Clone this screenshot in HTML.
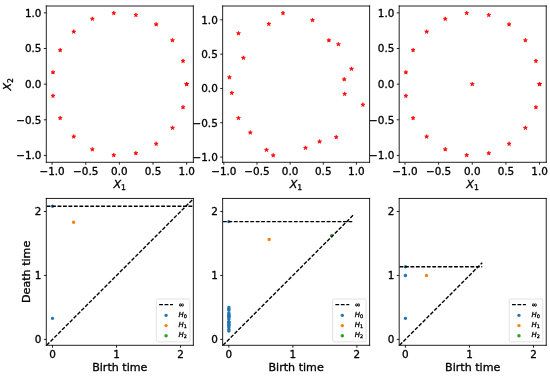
<!DOCTYPE html>
<html><head><meta charset="utf-8"><title>Figure</title>
<style>html,body{margin:0;padding:0;background:#fff;width:550px;height:378px;overflow:hidden}
text{font-family:"DejaVu Sans","Liberation Sans",sans-serif;stroke:#000;stroke-width:0.45px;paint-order:stroke}</style></head>
<body>
<svg width="550" height="378" viewBox="0 0 792 544.32" style="display:block">
<defs>
<style type="text/css">*{stroke-linejoin: round; stroke-linecap: butt}</style>
</defs>
<g id="figure_1">
<g id="patch_1">
<path d="M 0 544.32 L 792 544.32 L 792 0 L 0 0 z" style="fill: #ffffff"/>
</g>
<g id="axes_1">
<g id="patch_2">
<path d="M 66.672 233.712 L 278.424 233.712 L 278.424 8.64 L 66.672 8.64 z" style="fill: #ffffff"/>
</g>
<g id="matplotlib.axis_1">
<g id="xtick_1">
<g id="line2d_1">
<g>
<path d="M 0 0 L 0 3.5" transform="translate(74.97534 233.712)" style="stroke: #000000; stroke-width: 1.25"/>
</g>
</g>
<g id="text_1">
<text style="font-size: 15px; font-family: 'DejaVu Sans'; text-anchor: middle" x="74.97534" y="252.109656" transform="rotate(-0 74.97534 252.109656)">−1.0</text>
</g>
</g>
<g id="xtick_2">
<g id="line2d_2">
<g>
<path d="M 0 0 L 0 3.5" transform="translate(123.431233 233.712)" style="stroke: #000000; stroke-width: 1.25"/>
</g>
</g>
<g id="text_2">
<text style="font-size: 15px; font-family: 'DejaVu Sans'; text-anchor: middle" x="123.431233" y="252.109656" transform="rotate(-0 123.431233 252.109656)">−0.5</text>
</g>
</g>
<g id="xtick_3">
<g id="line2d_3">
<g>
<path d="M 0 0 L 0 3.5" transform="translate(171.887125 233.712)" style="stroke: #000000; stroke-width: 1.25"/>
</g>
</g>
<g id="text_3">
<text style="font-size: 15px; font-family: 'DejaVu Sans'; text-anchor: middle" x="171.887125" y="252.109656" transform="rotate(-0 171.887125 252.109656)">0.0</text>
</g>
</g>
<g id="xtick_4">
<g id="line2d_4">
<g>
<path d="M 0 0 L 0 3.5" transform="translate(220.343017 233.712)" style="stroke: #000000; stroke-width: 1.25"/>
</g>
</g>
<g id="text_4">
<text style="font-size: 15px; font-family: 'DejaVu Sans'; text-anchor: middle" x="220.343017" y="252.109656" transform="rotate(-0 220.343017 252.109656)">0.5</text>
</g>
</g>
<g id="xtick_5">
<g id="line2d_5">
<g>
<path d="M 0 0 L 0 3.5" transform="translate(268.798909 233.712)" style="stroke: #000000; stroke-width: 1.25"/>
</g>
</g>
<g id="text_5">
<text style="font-size: 15px; font-family: 'DejaVu Sans'; text-anchor: middle" x="268.798909" y="252.109656" transform="rotate(-0 268.798909 252.109656)">1.0</text>
</g>
</g>
<g id="text_6">
<g transform="translate(163.268 271.386687)">
<text>
<tspan x="0" y="-0.328125" style="font-style: oblique; font-size: 16px; font-family: 'DejaVu Sans'">X</tspan>
<tspan x="10.960938" y="2.296875" style="font-size: 11.2px; font-family: 'DejaVu Sans'">1</tspan>
</text>
</g>
</g>
</g>
<g id="matplotlib.axis_2">
<g id="ytick_1">
<g id="line2d_6">
<g>
<path d="M 0 0 L -3.5 0" transform="translate(66.672 223.832077)" style="stroke: #000000; stroke-width: 1.25"/>
</g>
</g>
<g id="text_7">
<text style="font-size: 15px; font-family: 'DejaVu Sans'; text-anchor: end" x="59.672" y="229.530905" transform="rotate(-0 59.672 229.530905)">−1.0</text>
</g>
</g>
<g id="ytick_2">
<g id="line2d_7">
<g>
<path d="M 0 0 L -3.5 0" transform="translate(66.672 172.504039)" style="stroke: #000000; stroke-width: 1.25"/>
</g>
</g>
<g id="text_8">
<text style="font-size: 15px; font-family: 'DejaVu Sans'; text-anchor: end" x="59.672" y="178.202867" transform="rotate(-0 59.672 178.202867)">−0.5</text>
</g>
</g>
<g id="ytick_3">
<g id="line2d_8">
<g>
<path d="M 0 0 L -3.5 0" transform="translate(66.672 121.176)" style="stroke: #000000; stroke-width: 1.25"/>
</g>
</g>
<g id="text_9">
<text style="font-size: 15px; font-family: 'DejaVu Sans'; text-anchor: end" x="59.672" y="126.874828" transform="rotate(-0 59.672 126.874828)">0.0</text>
</g>
</g>
<g id="ytick_4">
<g id="line2d_9">
<g>
<path d="M 0 0 L -3.5 0" transform="translate(66.672 69.847961)" style="stroke: #000000; stroke-width: 1.25"/>
</g>
</g>
<g id="text_10">
<text style="font-size: 15px; font-family: 'DejaVu Sans'; text-anchor: end" x="59.672" y="75.54679" transform="rotate(-0 59.672 75.54679)">0.5</text>
</g>
</g>
<g id="ytick_5">
<g id="line2d_10">
<g>
<path d="M 0 0 L -3.5 0" transform="translate(66.672 18.519923)" style="stroke: #000000; stroke-width: 1.25"/>
</g>
</g>
<g id="text_11">
<text style="font-size: 15px; font-family: 'DejaVu Sans'; text-anchor: end" x="59.672" y="24.218751" transform="rotate(-0 59.672 24.218751)">1.0</text>
</g>
</g>
<g id="text_12">
<g transform="translate(15.920281 130.456) rotate(-90)">
<text>
<tspan x="0" y="-0.328125" style="font-style: oblique; font-size: 16px; font-family: 'DejaVu Sans'">X</tspan>
<tspan x="10.960938" y="2.296875" style="font-size: 11.2px; font-family: 'DejaVu Sans'">2</tspan>
</text>
</g>
</g>
</g>
<g id="line2d_11">
<g clip-path="url(#p3191b3735a)">
<path d="M 0 -3 L -0.673542 -0.927051 L -2.85317 -0.927051 L -1.089814 0.354102 L -1.763356 2.427051 L -0 1.145898 L 1.763356 2.427051 L 1.089814 0.354102 L 2.85317 -0.927051 L 0.673542 -0.927051 z" transform="translate(268.798909 121.176)" style="fill: #ff0000; stroke: #ff0000; stroke-linejoin: bevel"/>
<path d="M 0 -3 L -0.673542 -0.927051 L -2.85317 -0.927051 L -1.089814 0.354102 L -1.763356 2.427051 L -0 1.145898 L 1.763356 2.427051 L 1.089814 0.354102 L 2.85317 -0.927051 L 0.673542 -0.927051 z" transform="translate(263.547961 87.843626)" style="fill: #ff0000; stroke: #ff0000; stroke-linejoin: bevel"/>
<path d="M 0 -3 L -0.673542 -0.927051 L -2.85317 -0.927051 L -1.089814 0.354102 L -1.763356 2.427051 L -0 1.145898 L 1.763356 2.427051 L 1.089814 0.354102 L 2.85317 -0.927051 L 0.673542 -0.927051 z" transform="translate(248.36414 58.123332)" style="fill: #ff0000; stroke: #ff0000; stroke-linejoin: bevel"/>
<path d="M 0 -3 L -0.673542 -0.927051 L -2.85317 -0.927051 L -1.089814 0.354102 L -1.763356 2.427051 L -0 1.145898 L 1.763356 2.427051 L 1.089814 0.354102 L 2.85317 -0.927051 L 0.673542 -0.927051 z" transform="translate(224.892847 35.235773)" style="fill: #ff0000; stroke: #ff0000; stroke-linejoin: bevel"/>
<path d="M 0 -3 L -0.673542 -0.927051 L -2.85317 -0.927051 L -1.089814 0.354102 L -1.763356 2.427051 L -0 1.145898 L 1.763356 2.427051 L 1.089814 0.354102 L 2.85317 -0.927051 L 0.673542 -0.927051 z" transform="translate(195.677561 21.661172)" style="fill: #ff0000; stroke: #ff0000; stroke-linejoin: bevel"/>
<path d="M 0 -3 L -0.673542 -0.927051 L -2.85317 -0.927051 L -1.089814 0.354102 L -1.763356 2.427051 L -0 1.145898 L 1.763356 2.427051 L 1.089814 0.354102 L 2.85317 -0.927051 L 0.673542 -0.927051 z" transform="translate(163.884213 18.870545)" style="fill: #ff0000; stroke: #ff0000; stroke-linejoin: bevel"/>
<path d="M 0 -3 L -0.673542 -0.927051 L -2.85317 -0.927051 L -1.089814 0.354102 L -1.763356 2.427051 L -0 1.145898 L 1.763356 2.427051 L 1.089814 0.354102 L 2.85317 -0.927051 L 0.673542 -0.927051 z" transform="translate(132.958104 27.166303)" style="fill: #ff0000; stroke: #ff0000; stroke-linejoin: bevel"/>
<path d="M 0 -3 L -0.673542 -0.927051 L -2.85317 -0.927051 L -1.089814 0.354102 L -1.763356 2.427051 L -0 1.145898 L 1.763356 2.427051 L 1.089814 0.354102 L 2.85317 -0.927051 L 0.673542 -0.927051 z" transform="translate(106.250559 45.64947)" style="fill: #ff0000; stroke: #ff0000; stroke-linejoin: bevel"/>
<path d="M 0 -3 L -0.673542 -0.927051 L -2.85317 -0.927051 L -1.089814 0.354102 L -1.763356 2.427051 L -0 1.145898 L 1.763356 2.427051 L 1.089814 0.354102 L 2.85317 -0.927051 L 0.673542 -0.927051 z" transform="translate(86.655754 72.317108)" style="fill: #ff0000; stroke: #ff0000; stroke-linejoin: bevel"/>
<path d="M 0 -3 L -0.673542 -0.927051 L -2.85317 -0.927051 L -1.089814 0.354102 L -1.763356 2.427051 L -0 1.145898 L 1.763356 2.427051 L 1.089814 0.354102 L 2.85317 -0.927051 L 0.673542 -0.927051 z" transform="translate(76.297091 104.279365)" style="fill: #ff0000; stroke: #ff0000; stroke-linejoin: bevel"/>
<path d="M 0 -3 L -0.673542 -0.927051 L -2.85317 -0.927051 L -1.089814 0.354102 L -1.763356 2.427051 L -0 1.145898 L 1.763356 2.427051 L 1.089814 0.354102 L 2.85317 -0.927051 L 0.673542 -0.927051 z" transform="translate(76.297091 138.072635)" style="fill: #ff0000; stroke: #ff0000; stroke-linejoin: bevel"/>
<path d="M 0 -3 L -0.673542 -0.927051 L -2.85317 -0.927051 L -1.089814 0.354102 L -1.763356 2.427051 L -0 1.145898 L 1.763356 2.427051 L 1.089814 0.354102 L 2.85317 -0.927051 L 0.673542 -0.927051 z" transform="translate(86.655754 170.034892)" style="fill: #ff0000; stroke: #ff0000; stroke-linejoin: bevel"/>
<path d="M 0 -3 L -0.673542 -0.927051 L -2.85317 -0.927051 L -1.089814 0.354102 L -1.763356 2.427051 L -0 1.145898 L 1.763356 2.427051 L 1.089814 0.354102 L 2.85317 -0.927051 L 0.673542 -0.927051 z" transform="translate(106.250559 196.70253)" style="fill: #ff0000; stroke: #ff0000; stroke-linejoin: bevel"/>
<path d="M 0 -3 L -0.673542 -0.927051 L -2.85317 -0.927051 L -1.089814 0.354102 L -1.763356 2.427051 L -0 1.145898 L 1.763356 2.427051 L 1.089814 0.354102 L 2.85317 -0.927051 L 0.673542 -0.927051 z" transform="translate(132.958104 215.185697)" style="fill: #ff0000; stroke: #ff0000; stroke-linejoin: bevel"/>
<path d="M 0 -3 L -0.673542 -0.927051 L -2.85317 -0.927051 L -1.089814 0.354102 L -1.763356 2.427051 L -0 1.145898 L 1.763356 2.427051 L 1.089814 0.354102 L 2.85317 -0.927051 L 0.673542 -0.927051 z" transform="translate(163.884213 223.481455)" style="fill: #ff0000; stroke: #ff0000; stroke-linejoin: bevel"/>
<path d="M 0 -3 L -0.673542 -0.927051 L -2.85317 -0.927051 L -1.089814 0.354102 L -1.763356 2.427051 L -0 1.145898 L 1.763356 2.427051 L 1.089814 0.354102 L 2.85317 -0.927051 L 0.673542 -0.927051 z" transform="translate(195.677561 220.690828)" style="fill: #ff0000; stroke: #ff0000; stroke-linejoin: bevel"/>
<path d="M 0 -3 L -0.673542 -0.927051 L -2.85317 -0.927051 L -1.089814 0.354102 L -1.763356 2.427051 L -0 1.145898 L 1.763356 2.427051 L 1.089814 0.354102 L 2.85317 -0.927051 L 0.673542 -0.927051 z" transform="translate(224.892847 207.116227)" style="fill: #ff0000; stroke: #ff0000; stroke-linejoin: bevel"/>
<path d="M 0 -3 L -0.673542 -0.927051 L -2.85317 -0.927051 L -1.089814 0.354102 L -1.763356 2.427051 L -0 1.145898 L 1.763356 2.427051 L 1.089814 0.354102 L 2.85317 -0.927051 L 0.673542 -0.927051 z" transform="translate(248.36414 184.228668)" style="fill: #ff0000; stroke: #ff0000; stroke-linejoin: bevel"/>
<path d="M 0 -3 L -0.673542 -0.927051 L -2.85317 -0.927051 L -1.089814 0.354102 L -1.763356 2.427051 L -0 1.145898 L 1.763356 2.427051 L 1.089814 0.354102 L 2.85317 -0.927051 L 0.673542 -0.927051 z" transform="translate(263.547961 154.508374)" style="fill: #ff0000; stroke: #ff0000; stroke-linejoin: bevel"/>
<path d="M 0 -3 L -0.673542 -0.927051 L -2.85317 -0.927051 L -1.089814 0.354102 L -1.763356 2.427051 L -0 1.145898 L 1.763356 2.427051 L 1.089814 0.354102 L 2.85317 -0.927051 L 0.673542 -0.927051 z" transform="translate(268.798909 121.176)" style="fill: #ff0000; stroke: #ff0000; stroke-linejoin: bevel"/>
</g>
</g>
<g id="patch_3">
<path d="M 66.672 233.712 L 66.672 8.64" style="fill: none; stroke: #000000; stroke-width: 1.25; stroke-linejoin: miter; stroke-linecap: square"/>
</g>
<g id="patch_4">
<path d="M 278.424 233.712 L 278.424 8.64" style="fill: none; stroke: #000000; stroke-width: 1.25; stroke-linejoin: miter; stroke-linecap: square"/>
</g>
<g id="patch_5">
<path d="M 66.672 233.712 L 278.424 233.712" style="fill: none; stroke: #000000; stroke-width: 1.25; stroke-linejoin: miter; stroke-linecap: square"/>
</g>
<g id="patch_6">
<path d="M 66.672 8.64 L 278.424 8.64" style="fill: none; stroke: #000000; stroke-width: 1.25; stroke-linejoin: miter; stroke-linecap: square"/>
</g>
</g>
<g id="axes_2">
<g id="patch_7">
<path d="M 320.616 233.712 L 532.224 233.712 L 532.224 8.64 L 320.616 8.64 z" style="fill: #ffffff"/>
</g>
<g id="matplotlib.axis_3">
<g id="xtick_6">
<g id="line2d_12">
<g>
<path d="M 0 0 L 0 3.5" transform="translate(322.272 233.712)" style="stroke: #000000; stroke-width: 1.25"/>
</g>
</g>
<g id="text_13">
<text style="font-size: 15px; font-family: 'DejaVu Sans'; text-anchor: middle" x="322.272" y="252.109656" transform="rotate(-0 322.272 252.109656)">−1.0</text>
</g>
</g>
<g id="xtick_7">
<g id="line2d_13">
<g>
<path d="M 0 0 L 0 3.5" transform="translate(370.008 233.712)" style="stroke: #000000; stroke-width: 1.25"/>
</g>
</g>
<g id="text_14">
<text style="font-size: 15px; font-family: 'DejaVu Sans'; text-anchor: middle" x="370.008" y="252.109656" transform="rotate(-0 370.008 252.109656)">−0.5</text>
</g>
</g>
<g id="xtick_8">
<g id="line2d_14">
<g>
<path d="M 0 0 L 0 3.5" transform="translate(417.744 233.712)" style="stroke: #000000; stroke-width: 1.25"/>
</g>
</g>
<g id="text_15">
<text style="font-size: 15px; font-family: 'DejaVu Sans'; text-anchor: middle" x="417.744" y="252.109656" transform="rotate(-0 417.744 252.109656)">0.0</text>
</g>
</g>
<g id="xtick_9">
<g id="line2d_15">
<g>
<path d="M 0 0 L 0 3.5" transform="translate(465.48 233.712)" style="stroke: #000000; stroke-width: 1.25"/>
</g>
</g>
<g id="text_16">
<text style="font-size: 15px; font-family: 'DejaVu Sans'; text-anchor: middle" x="465.48" y="252.109656" transform="rotate(-0 465.48 252.109656)">0.5</text>
</g>
</g>
<g id="xtick_10">
<g id="line2d_16">
<g>
<path d="M 0 0 L 0 3.5" transform="translate(513.216 233.712)" style="stroke: #000000; stroke-width: 1.25"/>
</g>
</g>
<g id="text_17">
<text style="font-size: 15px; font-family: 'DejaVu Sans'; text-anchor: middle" x="513.216" y="252.109656" transform="rotate(-0 513.216 252.109656)">1.0</text>
</g>
</g>
<g id="text_18">
<g transform="translate(417.14 271.386687)">
<text>
<tspan x="0" y="-0.328125" style="font-style: oblique; font-size: 16px; font-family: 'DejaVu Sans'">X</tspan>
<tspan x="10.960938" y="2.296875" style="font-size: 11.2px; font-family: 'DejaVu Sans'">1</tspan>
</text>
</g>
</g>
</g>
<g id="matplotlib.axis_4">
<g id="ytick_6">
<g id="line2d_17">
<g>
<path d="M 0 0 L -3.5 0" transform="translate(320.616 226.224)" style="stroke: #000000; stroke-width: 1.25"/>
</g>
</g>
<g id="text_19">
<text style="font-size: 15px; font-family: 'DejaVu Sans'; text-anchor: end" x="313.616" y="231.922828" transform="rotate(-0 313.616 231.922828)">−1.0</text>
</g>
</g>
<g id="ytick_7">
<g id="line2d_18">
<g>
<path d="M 0 0 L -3.5 0" transform="translate(320.616 176.796)" style="stroke: #000000; stroke-width: 1.25"/>
</g>
</g>
<g id="text_20">
<text style="font-size: 15px; font-family: 'DejaVu Sans'; text-anchor: end" x="313.616" y="182.494828" transform="rotate(-0 313.616 182.494828)">−0.5</text>
</g>
</g>
<g id="ytick_8">
<g id="line2d_19">
<g>
<path d="M 0 0 L -3.5 0" transform="translate(320.616 127.368)" style="stroke: #000000; stroke-width: 1.25"/>
</g>
</g>
<g id="text_21">
<text style="font-size: 15px; font-family: 'DejaVu Sans'; text-anchor: end" x="313.616" y="133.066828" transform="rotate(-0 313.616 133.066828)">0.0</text>
</g>
</g>
<g id="ytick_9">
<g id="line2d_20">
<g>
<path d="M 0 0 L -3.5 0" transform="translate(320.616 77.94)" style="stroke: #000000; stroke-width: 1.25"/>
</g>
</g>
<g id="text_22">
<text style="font-size: 15px; font-family: 'DejaVu Sans'; text-anchor: end" x="313.616" y="83.638828" transform="rotate(-0 313.616 83.638828)">0.5</text>
</g>
</g>
<g id="ytick_10">
<g id="line2d_21">
<g>
<path d="M 0 0 L -3.5 0" transform="translate(320.616 28.512)" style="stroke: #000000; stroke-width: 1.25"/>
</g>
</g>
<g id="text_23">
<text style="font-size: 15px; font-family: 'DejaVu Sans'; text-anchor: end" x="313.616" y="34.210828" transform="rotate(-0 313.616 34.210828)">1.0</text>
</g>
</g>
</g>
<g id="line2d_22">
<g clip-path="url(#pf037a44fa8)">
<path d="M 0 -3 L -0.673542 -0.927051 L -2.85317 -0.927051 L -1.089814 0.354102 L -1.763356 2.427051 L -0 1.145898 L 1.763356 2.427051 L 1.089814 0.354102 L 2.85317 -0.927051 L 0.673542 -0.927051 z" transform="translate(407.52 18.864)" style="fill: #ff0000; stroke: #ff0000; stroke-linejoin: bevel"/>
<path d="M 0 -3 L -0.673542 -0.927051 L -2.85317 -0.927051 L -1.089814 0.354102 L -1.763356 2.427051 L -0 1.145898 L 1.763356 2.427051 L 1.089814 0.354102 L 2.85317 -0.927051 L 0.673542 -0.927051 z" transform="translate(387.072 34.56)" style="fill: #ff0000; stroke: #ff0000; stroke-linejoin: bevel"/>
<path d="M 0 -3 L -0.673542 -0.927051 L -2.85317 -0.927051 L -1.089814 0.354102 L -1.763356 2.427051 L -0 1.145898 L 1.763356 2.427051 L 1.089814 0.354102 L 2.85317 -0.927051 L 0.673542 -0.927051 z" transform="translate(343.44 48.096)" style="fill: #ff0000; stroke: #ff0000; stroke-linejoin: bevel"/>
<path d="M 0 -3 L -0.673542 -0.927051 L -2.85317 -0.927051 L -1.089814 0.354102 L -1.763356 2.427051 L -0 1.145898 L 1.763356 2.427051 L 1.089814 0.354102 L 2.85317 -0.927051 L 0.673542 -0.927051 z" transform="translate(450 29.088)" style="fill: #ff0000; stroke: #ff0000; stroke-linejoin: bevel"/>
<path d="M 0 -3 L -0.673542 -0.927051 L -2.85317 -0.927051 L -1.089814 0.354102 L -1.763356 2.427051 L -0 1.145898 L 1.763356 2.427051 L 1.089814 0.354102 L 2.85317 -0.927051 L 0.673542 -0.927051 z" transform="translate(473.616 58.176)" style="fill: #ff0000; stroke: #ff0000; stroke-linejoin: bevel"/>
<path d="M 0 -3 L -0.673542 -0.927051 L -2.85317 -0.927051 L -1.089814 0.354102 L -1.763356 2.427051 L -0 1.145898 L 1.763356 2.427051 L 1.089814 0.354102 L 2.85317 -0.927051 L 0.673542 -0.927051 z" transform="translate(487.296 63.792)" style="fill: #ff0000; stroke: #ff0000; stroke-linejoin: bevel"/>
<path d="M 0 -3 L -0.673542 -0.927051 L -2.85317 -0.927051 L -1.089814 0.354102 L -1.763356 2.427051 L -0 1.145898 L 1.763356 2.427051 L 1.089814 0.354102 L 2.85317 -0.927051 L 0.673542 -0.927051 z" transform="translate(350.496 83.376)" style="fill: #ff0000; stroke: #ff0000; stroke-linejoin: bevel"/>
<path d="M 0 -3 L -0.673542 -0.927051 L -2.85317 -0.927051 L -1.089814 0.354102 L -1.763356 2.427051 L -0 1.145898 L 1.763356 2.427051 L 1.089814 0.354102 L 2.85317 -0.927051 L 0.673542 -0.927051 z" transform="translate(330.336 111.456)" style="fill: #ff0000; stroke: #ff0000; stroke-linejoin: bevel"/>
<path d="M 0 -3 L -0.673542 -0.927051 L -2.85317 -0.927051 L -1.089814 0.354102 L -1.763356 2.427051 L -0 1.145898 L 1.763356 2.427051 L 1.089814 0.354102 L 2.85317 -0.927051 L 0.673542 -0.927051 z" transform="translate(333.792 133.92)" style="fill: #ff0000; stroke: #ff0000; stroke-linejoin: bevel"/>
<path d="M 0 -3 L -0.673542 -0.927051 L -2.85317 -0.927051 L -1.089814 0.354102 L -1.763356 2.427051 L -0 1.145898 L 1.763356 2.427051 L 1.089814 0.354102 L 2.85317 -0.927051 L 0.673542 -0.927051 z" transform="translate(506.16 99.216)" style="fill: #ff0000; stroke: #ff0000; stroke-linejoin: bevel"/>
<path d="M 0 -3 L -0.673542 -0.927051 L -2.85317 -0.927051 L -1.089814 0.354102 L -1.763356 2.427051 L -0 1.145898 L 1.763356 2.427051 L 1.089814 0.354102 L 2.85317 -0.927051 L 0.673542 -0.927051 z" transform="translate(495.648 114.336)" style="fill: #ff0000; stroke: #ff0000; stroke-linejoin: bevel"/>
<path d="M 0 -3 L -0.673542 -0.927051 L -2.85317 -0.927051 L -1.089814 0.354102 L -1.763356 2.427051 L -0 1.145898 L 1.763356 2.427051 L 1.089814 0.354102 L 2.85317 -0.927051 L 0.673542 -0.927051 z" transform="translate(496.368 135.36)" style="fill: #ff0000; stroke: #ff0000; stroke-linejoin: bevel"/>
<path d="M 0 -3 L -0.673542 -0.927051 L -2.85317 -0.927051 L -1.089814 0.354102 L -1.763356 2.427051 L -0 1.145898 L 1.763356 2.427051 L 1.089814 0.354102 L 2.85317 -0.927051 L 0.673542 -0.927051 z" transform="translate(522.576 150.912)" style="fill: #ff0000; stroke: #ff0000; stroke-linejoin: bevel"/>
<path d="M 0 -3 L -0.673542 -0.927051 L -2.85317 -0.927051 L -1.089814 0.354102 L -1.763356 2.427051 L -0 1.145898 L 1.763356 2.427051 L 1.089814 0.354102 L 2.85317 -0.927051 L 0.673542 -0.927051 z" transform="translate(343.44 170.064)" style="fill: #ff0000; stroke: #ff0000; stroke-linejoin: bevel"/>
<path d="M 0 -3 L -0.673542 -0.927051 L -2.85317 -0.927051 L -1.089814 0.354102 L -1.763356 2.427051 L -0 1.145898 L 1.763356 2.427051 L 1.089814 0.354102 L 2.85317 -0.927051 L 0.673542 -0.927051 z" transform="translate(360.432 190.944)" style="fill: #ff0000; stroke: #ff0000; stroke-linejoin: bevel"/>
<path d="M 0 -3 L -0.673542 -0.927051 L -2.85317 -0.927051 L -1.089814 0.354102 L -1.763356 2.427051 L -0 1.145898 L 1.763356 2.427051 L 1.089814 0.354102 L 2.85317 -0.927051 L 0.673542 -0.927051 z" transform="translate(383.76 215.856)" style="fill: #ff0000; stroke: #ff0000; stroke-linejoin: bevel"/>
<path d="M 0 -3 L -0.673542 -0.927051 L -2.85317 -0.927051 L -1.089814 0.354102 L -1.763356 2.427051 L -0 1.145898 L 1.763356 2.427051 L 1.089814 0.354102 L 2.85317 -0.927051 L 0.673542 -0.927051 z" transform="translate(393.408 223.776)" style="fill: #ff0000; stroke: #ff0000; stroke-linejoin: bevel"/>
<path d="M 0 -3 L -0.673542 -0.927051 L -2.85317 -0.927051 L -1.089814 0.354102 L -1.763356 2.427051 L -0 1.145898 L 1.763356 2.427051 L 1.089814 0.354102 L 2.85317 -0.927051 L 0.673542 -0.927051 z" transform="translate(439.92 212.976)" style="fill: #ff0000; stroke: #ff0000; stroke-linejoin: bevel"/>
<path d="M 0 -3 L -0.673542 -0.927051 L -2.85317 -0.927051 L -1.089814 0.354102 L -1.763356 2.427051 L -0 1.145898 L 1.763356 2.427051 L 1.089814 0.354102 L 2.85317 -0.927051 L 0.673542 -0.927051 z" transform="translate(460.224 203.904)" style="fill: #ff0000; stroke: #ff0000; stroke-linejoin: bevel"/>
<path d="M 0 -3 L -0.673542 -0.927051 L -2.85317 -0.927051 L -1.089814 0.354102 L -1.763356 2.427051 L -0 1.145898 L 1.763356 2.427051 L 1.089814 0.354102 L 2.85317 -0.927051 L 0.673542 -0.927051 z" transform="translate(484.128 197.568)" style="fill: #ff0000; stroke: #ff0000; stroke-linejoin: bevel"/>
</g>
</g>
<g id="patch_8">
<path d="M 320.616 233.712 L 320.616 8.64" style="fill: none; stroke: #000000; stroke-width: 1.25; stroke-linejoin: miter; stroke-linecap: square"/>
</g>
<g id="patch_9">
<path d="M 532.224 233.712 L 532.224 8.64" style="fill: none; stroke: #000000; stroke-width: 1.25; stroke-linejoin: miter; stroke-linecap: square"/>
</g>
<g id="patch_10">
<path d="M 320.616 233.712 L 532.224 233.712" style="fill: none; stroke: #000000; stroke-width: 1.25; stroke-linejoin: miter; stroke-linecap: square"/>
</g>
<g id="patch_11">
<path d="M 320.616 8.64 L 532.224 8.64" style="fill: none; stroke: #000000; stroke-width: 1.25; stroke-linejoin: miter; stroke-linecap: square"/>
</g>
</g>
<g id="axes_3">
<g id="patch_12">
<path d="M 574.848 233.712 L 786.6 233.712 L 786.6 8.64 L 574.848 8.64 z" style="fill: #ffffff"/>
</g>
<g id="matplotlib.axis_5">
<g id="xtick_11">
<g id="line2d_23">
<g>
<path d="M 0 0 L 0 3.5" transform="translate(583.15134 233.712)" style="stroke: #000000; stroke-width: 1.25"/>
</g>
</g>
<g id="text_24">
<text style="font-size: 15px; font-family: 'DejaVu Sans'; text-anchor: middle" x="583.15134" y="252.109656" transform="rotate(-0 583.15134 252.109656)">−1.0</text>
</g>
</g>
<g id="xtick_12">
<g id="line2d_24">
<g>
<path d="M 0 0 L 0 3.5" transform="translate(631.607233 233.712)" style="stroke: #000000; stroke-width: 1.25"/>
</g>
</g>
<g id="text_25">
<text style="font-size: 15px; font-family: 'DejaVu Sans'; text-anchor: middle" x="631.607233" y="252.109656" transform="rotate(-0 631.607233 252.109656)">−0.5</text>
</g>
</g>
<g id="xtick_13">
<g id="line2d_25">
<g>
<path d="M 0 0 L 0 3.5" transform="translate(680.063125 233.712)" style="stroke: #000000; stroke-width: 1.25"/>
</g>
</g>
<g id="text_26">
<text style="font-size: 15px; font-family: 'DejaVu Sans'; text-anchor: middle" x="680.063125" y="252.109656" transform="rotate(-0 680.063125 252.109656)">0.0</text>
</g>
</g>
<g id="xtick_14">
<g id="line2d_26">
<g>
<path d="M 0 0 L 0 3.5" transform="translate(728.519017 233.712)" style="stroke: #000000; stroke-width: 1.25"/>
</g>
</g>
<g id="text_27">
<text style="font-size: 15px; font-family: 'DejaVu Sans'; text-anchor: middle" x="728.519017" y="252.109656" transform="rotate(-0 728.519017 252.109656)">0.5</text>
</g>
</g>
<g id="xtick_15">
<g id="line2d_27">
<g>
<path d="M 0 0 L 0 3.5" transform="translate(776.974909 233.712)" style="stroke: #000000; stroke-width: 1.25"/>
</g>
</g>
<g id="text_28">
<text style="font-size: 15px; font-family: 'DejaVu Sans'; text-anchor: middle" x="776.974909" y="252.109656" transform="rotate(-0 776.974909 252.109656)">1.0</text>
</g>
</g>
<g id="text_29">
<g transform="translate(671.444 271.386687)">
<text>
<tspan x="0" y="-0.328125" style="font-style: oblique; font-size: 16px; font-family: 'DejaVu Sans'">X</tspan>
<tspan x="10.960938" y="2.296875" style="font-size: 11.2px; font-family: 'DejaVu Sans'">1</tspan>
</text>
</g>
</g>
</g>
<g id="matplotlib.axis_6">
<g id="ytick_11">
<g id="line2d_28">
<g>
<path d="M 0 0 L -3.5 0" transform="translate(574.848 223.832077)" style="stroke: #000000; stroke-width: 1.25"/>
</g>
</g>
<g id="text_30">
<text style="font-size: 15px; font-family: 'DejaVu Sans'; text-anchor: end" x="567.848" y="229.530905" transform="rotate(-0 567.848 229.530905)">−1.0</text>
</g>
</g>
<g id="ytick_12">
<g id="line2d_29">
<g>
<path d="M 0 0 L -3.5 0" transform="translate(574.848 172.504039)" style="stroke: #000000; stroke-width: 1.25"/>
</g>
</g>
<g id="text_31">
<text style="font-size: 15px; font-family: 'DejaVu Sans'; text-anchor: end" x="567.848" y="178.202867" transform="rotate(-0 567.848 178.202867)">−0.5</text>
</g>
</g>
<g id="ytick_13">
<g id="line2d_30">
<g>
<path d="M 0 0 L -3.5 0" transform="translate(574.848 121.176)" style="stroke: #000000; stroke-width: 1.25"/>
</g>
</g>
<g id="text_32">
<text style="font-size: 15px; font-family: 'DejaVu Sans'; text-anchor: end" x="567.848" y="126.874828" transform="rotate(-0 567.848 126.874828)">0.0</text>
</g>
</g>
<g id="ytick_14">
<g id="line2d_31">
<g>
<path d="M 0 0 L -3.5 0" transform="translate(574.848 69.847961)" style="stroke: #000000; stroke-width: 1.25"/>
</g>
</g>
<g id="text_33">
<text style="font-size: 15px; font-family: 'DejaVu Sans'; text-anchor: end" x="567.848" y="75.54679" transform="rotate(-0 567.848 75.54679)">0.5</text>
</g>
</g>
<g id="ytick_15">
<g id="line2d_32">
<g>
<path d="M 0 0 L -3.5 0" transform="translate(574.848 18.519923)" style="stroke: #000000; stroke-width: 1.25"/>
</g>
</g>
<g id="text_34">
<text style="font-size: 15px; font-family: 'DejaVu Sans'; text-anchor: end" x="567.848" y="24.218751" transform="rotate(-0 567.848 24.218751)">1.0</text>
</g>
</g>
</g>
<g id="line2d_33">
<g clip-path="url(#p1b75be0a02)">
<path d="M 0 -3 L -0.673542 -0.927051 L -2.85317 -0.927051 L -1.089814 0.354102 L -1.763356 2.427051 L -0 1.145898 L 1.763356 2.427051 L 1.089814 0.354102 L 2.85317 -0.927051 L 0.673542 -0.927051 z" transform="translate(776.974909 121.176)" style="fill: #ff0000; stroke: #ff0000; stroke-linejoin: bevel"/>
<path d="M 0 -3 L -0.673542 -0.927051 L -2.85317 -0.927051 L -1.089814 0.354102 L -1.763356 2.427051 L -0 1.145898 L 1.763356 2.427051 L 1.089814 0.354102 L 2.85317 -0.927051 L 0.673542 -0.927051 z" transform="translate(771.723961 87.843626)" style="fill: #ff0000; stroke: #ff0000; stroke-linejoin: bevel"/>
<path d="M 0 -3 L -0.673542 -0.927051 L -2.85317 -0.927051 L -1.089814 0.354102 L -1.763356 2.427051 L -0 1.145898 L 1.763356 2.427051 L 1.089814 0.354102 L 2.85317 -0.927051 L 0.673542 -0.927051 z" transform="translate(756.54014 58.123332)" style="fill: #ff0000; stroke: #ff0000; stroke-linejoin: bevel"/>
<path d="M 0 -3 L -0.673542 -0.927051 L -2.85317 -0.927051 L -1.089814 0.354102 L -1.763356 2.427051 L -0 1.145898 L 1.763356 2.427051 L 1.089814 0.354102 L 2.85317 -0.927051 L 0.673542 -0.927051 z" transform="translate(733.068847 35.235773)" style="fill: #ff0000; stroke: #ff0000; stroke-linejoin: bevel"/>
<path d="M 0 -3 L -0.673542 -0.927051 L -2.85317 -0.927051 L -1.089814 0.354102 L -1.763356 2.427051 L -0 1.145898 L 1.763356 2.427051 L 1.089814 0.354102 L 2.85317 -0.927051 L 0.673542 -0.927051 z" transform="translate(703.853561 21.661172)" style="fill: #ff0000; stroke: #ff0000; stroke-linejoin: bevel"/>
<path d="M 0 -3 L -0.673542 -0.927051 L -2.85317 -0.927051 L -1.089814 0.354102 L -1.763356 2.427051 L -0 1.145898 L 1.763356 2.427051 L 1.089814 0.354102 L 2.85317 -0.927051 L 0.673542 -0.927051 z" transform="translate(672.060213 18.870545)" style="fill: #ff0000; stroke: #ff0000; stroke-linejoin: bevel"/>
<path d="M 0 -3 L -0.673542 -0.927051 L -2.85317 -0.927051 L -1.089814 0.354102 L -1.763356 2.427051 L -0 1.145898 L 1.763356 2.427051 L 1.089814 0.354102 L 2.85317 -0.927051 L 0.673542 -0.927051 z" transform="translate(641.134104 27.166303)" style="fill: #ff0000; stroke: #ff0000; stroke-linejoin: bevel"/>
<path d="M 0 -3 L -0.673542 -0.927051 L -2.85317 -0.927051 L -1.089814 0.354102 L -1.763356 2.427051 L -0 1.145898 L 1.763356 2.427051 L 1.089814 0.354102 L 2.85317 -0.927051 L 0.673542 -0.927051 z" transform="translate(614.426559 45.64947)" style="fill: #ff0000; stroke: #ff0000; stroke-linejoin: bevel"/>
<path d="M 0 -3 L -0.673542 -0.927051 L -2.85317 -0.927051 L -1.089814 0.354102 L -1.763356 2.427051 L -0 1.145898 L 1.763356 2.427051 L 1.089814 0.354102 L 2.85317 -0.927051 L 0.673542 -0.927051 z" transform="translate(594.831754 72.317108)" style="fill: #ff0000; stroke: #ff0000; stroke-linejoin: bevel"/>
<path d="M 0 -3 L -0.673542 -0.927051 L -2.85317 -0.927051 L -1.089814 0.354102 L -1.763356 2.427051 L -0 1.145898 L 1.763356 2.427051 L 1.089814 0.354102 L 2.85317 -0.927051 L 0.673542 -0.927051 z" transform="translate(584.473091 104.279365)" style="fill: #ff0000; stroke: #ff0000; stroke-linejoin: bevel"/>
<path d="M 0 -3 L -0.673542 -0.927051 L -2.85317 -0.927051 L -1.089814 0.354102 L -1.763356 2.427051 L -0 1.145898 L 1.763356 2.427051 L 1.089814 0.354102 L 2.85317 -0.927051 L 0.673542 -0.927051 z" transform="translate(584.473091 138.072635)" style="fill: #ff0000; stroke: #ff0000; stroke-linejoin: bevel"/>
<path d="M 0 -3 L -0.673542 -0.927051 L -2.85317 -0.927051 L -1.089814 0.354102 L -1.763356 2.427051 L -0 1.145898 L 1.763356 2.427051 L 1.089814 0.354102 L 2.85317 -0.927051 L 0.673542 -0.927051 z" transform="translate(594.831754 170.034892)" style="fill: #ff0000; stroke: #ff0000; stroke-linejoin: bevel"/>
<path d="M 0 -3 L -0.673542 -0.927051 L -2.85317 -0.927051 L -1.089814 0.354102 L -1.763356 2.427051 L -0 1.145898 L 1.763356 2.427051 L 1.089814 0.354102 L 2.85317 -0.927051 L 0.673542 -0.927051 z" transform="translate(614.426559 196.70253)" style="fill: #ff0000; stroke: #ff0000; stroke-linejoin: bevel"/>
<path d="M 0 -3 L -0.673542 -0.927051 L -2.85317 -0.927051 L -1.089814 0.354102 L -1.763356 2.427051 L -0 1.145898 L 1.763356 2.427051 L 1.089814 0.354102 L 2.85317 -0.927051 L 0.673542 -0.927051 z" transform="translate(641.134104 215.185697)" style="fill: #ff0000; stroke: #ff0000; stroke-linejoin: bevel"/>
<path d="M 0 -3 L -0.673542 -0.927051 L -2.85317 -0.927051 L -1.089814 0.354102 L -1.763356 2.427051 L -0 1.145898 L 1.763356 2.427051 L 1.089814 0.354102 L 2.85317 -0.927051 L 0.673542 -0.927051 z" transform="translate(672.060213 223.481455)" style="fill: #ff0000; stroke: #ff0000; stroke-linejoin: bevel"/>
<path d="M 0 -3 L -0.673542 -0.927051 L -2.85317 -0.927051 L -1.089814 0.354102 L -1.763356 2.427051 L -0 1.145898 L 1.763356 2.427051 L 1.089814 0.354102 L 2.85317 -0.927051 L 0.673542 -0.927051 z" transform="translate(703.853561 220.690828)" style="fill: #ff0000; stroke: #ff0000; stroke-linejoin: bevel"/>
<path d="M 0 -3 L -0.673542 -0.927051 L -2.85317 -0.927051 L -1.089814 0.354102 L -1.763356 2.427051 L -0 1.145898 L 1.763356 2.427051 L 1.089814 0.354102 L 2.85317 -0.927051 L 0.673542 -0.927051 z" transform="translate(733.068847 207.116227)" style="fill: #ff0000; stroke: #ff0000; stroke-linejoin: bevel"/>
<path d="M 0 -3 L -0.673542 -0.927051 L -2.85317 -0.927051 L -1.089814 0.354102 L -1.763356 2.427051 L -0 1.145898 L 1.763356 2.427051 L 1.089814 0.354102 L 2.85317 -0.927051 L 0.673542 -0.927051 z" transform="translate(756.54014 184.228668)" style="fill: #ff0000; stroke: #ff0000; stroke-linejoin: bevel"/>
<path d="M 0 -3 L -0.673542 -0.927051 L -2.85317 -0.927051 L -1.089814 0.354102 L -1.763356 2.427051 L -0 1.145898 L 1.763356 2.427051 L 1.089814 0.354102 L 2.85317 -0.927051 L 0.673542 -0.927051 z" transform="translate(771.723961 154.508374)" style="fill: #ff0000; stroke: #ff0000; stroke-linejoin: bevel"/>
<path d="M 0 -3 L -0.673542 -0.927051 L -2.85317 -0.927051 L -1.089814 0.354102 L -1.763356 2.427051 L -0 1.145898 L 1.763356 2.427051 L 1.089814 0.354102 L 2.85317 -0.927051 L 0.673542 -0.927051 z" transform="translate(776.974909 121.176)" style="fill: #ff0000; stroke: #ff0000; stroke-linejoin: bevel"/>
<path d="M 0 -3 L -0.673542 -0.927051 L -2.85317 -0.927051 L -1.089814 0.354102 L -1.763356 2.427051 L -0 1.145898 L 1.763356 2.427051 L 1.089814 0.354102 L 2.85317 -0.927051 L 0.673542 -0.927051 z" transform="translate(680.063125 121.176)" style="fill: #ff0000; stroke: #ff0000; stroke-linejoin: bevel"/>
</g>
</g>
<g id="patch_13">
<path d="M 574.848 233.712 L 574.848 8.64" style="fill: none; stroke: #000000; stroke-width: 1.25; stroke-linejoin: miter; stroke-linecap: square"/>
</g>
<g id="patch_14">
<path d="M 786.6 233.712 L 786.6 8.64" style="fill: none; stroke: #000000; stroke-width: 1.25; stroke-linejoin: miter; stroke-linecap: square"/>
</g>
<g id="patch_15">
<path d="M 574.848 233.712 L 786.6 233.712" style="fill: none; stroke: #000000; stroke-width: 1.25; stroke-linejoin: miter; stroke-linecap: square"/>
</g>
<g id="patch_16">
<path d="M 574.848 8.64 L 786.6 8.64" style="fill: none; stroke: #000000; stroke-width: 1.25; stroke-linejoin: miter; stroke-linecap: square"/>
</g>
</g>
<g id="axes_4">
<g id="patch_17">
<path d="M 66.672 497.232 L 278.424 497.232 L 278.424 285.768 L 66.672 285.768 z" style="fill: #ffffff"/>
</g>
<g id="PathCollection_1">
<g clip-path="url(#p6b034c9dc1)">
<path d="M 0 2.44949 C 0.649612 2.44949 1.272706 2.191396 1.732051 1.732051 C 2.191396 1.272706 2.44949 0.649612 2.44949 -0 C 2.44949 -0.649612 2.191396 -1.272706 1.732051 -1.732051 C 1.272706 -2.191396 0.649612 -2.44949 0 -2.44949 C -0.649612 -2.44949 -1.272706 -2.191396 -1.732051 -1.732051 C -2.191396 -1.272706 -2.44949 -0.649612 -2.44949 0 C -2.44949 0.649612 -2.191396 1.272706 -1.732051 1.732051 C -1.272706 2.191396 -0.649612 2.44949 0 2.44949 z" transform="translate(75.617969 458.440036)" style="fill: #1f77b4"/>
</g>
<g clip-path="url(#p6b034c9dc1)">
<path d="M 0 2.44949 C 0.649612 2.44949 1.272706 2.191396 1.732051 1.732051 C 2.191396 1.272706 2.44949 0.649612 2.44949 -0 C 2.44949 -0.649612 2.191396 -1.272706 1.732051 -1.732051 C 1.272706 -2.191396 0.649612 -2.44949 0 -2.44949 C -0.649612 -2.44949 -1.272706 -2.191396 -1.732051 -1.732051 C -2.191396 -1.272706 -2.44949 -0.649612 -2.44949 0 C -2.44949 0.649612 -2.191396 1.272706 -1.732051 1.732051 C -1.272706 2.191396 -0.649612 2.44949 0 2.44949 z" transform="translate(75.617969 296.95183)" style="fill: #1f77b4"/>
</g>
</g>
<g id="PathCollection_2">
<path d="M 105.977928 322.520832 C 106.627541 322.520832 107.250634 322.262739 107.709979 321.803393 C 108.169324 321.344048 108.427418 320.720955 108.427418 320.071343 C 108.427418 319.42173 108.169324 318.798637 107.709979 318.339292 C 107.250634 317.879947 106.627541 317.621853 105.977928 317.621853 C 105.328316 317.621853 104.705223 317.879947 104.245877 318.339292 C 103.786532 318.798637 103.528439 319.42173 103.528439 320.071343 C 103.528439 320.720955 103.786532 321.344048 104.245877 321.803393 C 104.705223 322.262739 105.328316 322.520832 105.977928 322.520832 z" clip-path="url(#p6b034c9dc1)" style="fill: #ff7f0e"/>
</g>
<g id="PathCollection_3">
<path d="M 0 546.76949 C 0.649612 546.76949 1.272706 546.511396 1.732051 546.052051 C 2.191396 545.592706 2.44949 544.969612 2.44949 544.32 C 2.44949 543.670388 2.191396 543.047294 1.732051 542.587949 C 1.272706 542.128604 0.649612 541.87051 0 541.87051 C -0.649612 541.87051 -1.272706 542.128604 -1.732051 542.587949 C -2.191396 543.047294 -2.44949 543.670388 -2.44949 544.32 C -2.44949 544.969612 -2.191396 545.592706 -1.732051 546.052051 C -1.272706 546.511396 -0.649612 546.76949 0 546.76949 z" clip-path="url(#p6b034c9dc1)" style="fill: #2ca02c"/>
</g>
<g id="matplotlib.axis_7">
<g id="xtick_16">
<g id="line2d_34">
<g>
<path d="M 0 0 L 0 3.5" transform="translate(75.617969 497.232)" style="stroke: #000000; stroke-width: 1.25"/>
</g>
</g>
<g id="text_35">
<text style="font-size: 15px; font-family: 'DejaVu Sans'; text-anchor: middle" x="75.617969" y="515.629656" transform="rotate(-0 75.617969 515.629656)">0</text>
</g>
</g>
<g id="xtick_17">
<g id="line2d_35">
<g>
<path d="M 0 0 L 0 3.5" transform="translate(167.844449 497.232)" style="stroke: #000000; stroke-width: 1.25"/>
</g>
</g>
<g id="text_36">
<text style="font-size: 15px; font-family: 'DejaVu Sans'; text-anchor: middle" x="167.844449" y="515.629656" transform="rotate(-0 167.844449 515.629656)">1</text>
</g>
</g>
<g id="xtick_18">
<g id="line2d_36">
<g>
<path d="M 0 0 L 0 3.5" transform="translate(260.07093 497.232)" style="stroke: #000000; stroke-width: 1.25"/>
</g>
</g>
<g id="text_37">
<text style="font-size: 15px; font-family: 'DejaVu Sans'; text-anchor: middle" x="260.07093" y="515.629656" transform="rotate(-0 260.07093 515.629656)">2</text>
</g>
</g>
<g id="text_38">
<text style="font-size: 16px; font-family: 'DejaVu Sans'; text-anchor: middle" x="172.548" y="534.906687" transform="rotate(-0 172.548 534.906687)">Birth time</text>
</g>
</g>
<g id="matplotlib.axis_8">
<g id="ytick_16">
<g id="line2d_37">
<g>
<path d="M 0 0 L -3.5 0" transform="translate(66.672 488.758704)" style="stroke: #000000; stroke-width: 1.25"/>
</g>
</g>
<g id="text_39">
<text style="font-size: 15px; font-family: 'DejaVu Sans'; text-anchor: end" x="59.672" y="494.457532" transform="rotate(-0 59.672 494.457532)">0</text>
</g>
</g>
<g id="ytick_17">
<g id="line2d_38">
<g>
<path d="M 0 0 L -3.5 0" transform="translate(66.672 396.657659)" style="stroke: #000000; stroke-width: 1.25"/>
</g>
</g>
<g id="text_40">
<text style="font-size: 15px; font-family: 'DejaVu Sans'; text-anchor: end" x="59.672" y="402.356487" transform="rotate(-0 59.672 402.356487)">1</text>
</g>
</g>
<g id="ytick_18">
<g id="line2d_39">
<g>
<path d="M 0 0 L -3.5 0" transform="translate(66.672 304.556613)" style="stroke: #000000; stroke-width: 1.25"/>
</g>
</g>
<g id="text_41">
<text style="font-size: 15px; font-family: 'DejaVu Sans'; text-anchor: end" x="59.672" y="310.255441" transform="rotate(-0 59.672 310.255441)">2</text>
</g>
</g>
<g id="text_42">
<text style="font-size: 16px; font-family: 'DejaVu Sans'; text-anchor: middle" x="42.80075" y="391.5" transform="rotate(-90 42.80075 391.5)">Death time</text>
</g>
</g>
<g id="line2d_40">
<path d="M 67.170023 497.19516 L 278.239547 286.412707" clip-path="url(#p6b034c9dc1)" style="fill: none; stroke-dasharray: 5.484,2.371; stroke-dashoffset: 0; stroke: #000000; stroke-width: 2"/>
</g>
<g id="line2d_41">
<path d="M 67.170023 296.95183 L 278.239547 296.95183" clip-path="url(#p6b034c9dc1)" style="fill: none; stroke-dasharray: 5.484,2.371; stroke-dashoffset: 0; stroke: #000000; stroke-width: 2"/>
</g>
<g id="patch_18">
<path d="M 66.672 497.232 L 66.672 285.768" style="fill: none; stroke: #000000; stroke-width: 1.25; stroke-linejoin: miter; stroke-linecap: square"/>
</g>
<g id="patch_19">
<path d="M 278.424 497.232 L 278.424 285.768" style="fill: none; stroke: #000000; stroke-width: 1.25; stroke-linejoin: miter; stroke-linecap: square"/>
</g>
<g id="patch_20">
<path d="M 66.672 497.232 L 278.424 497.232" style="fill: none; stroke: #000000; stroke-width: 1.25; stroke-linejoin: miter; stroke-linecap: square"/>
</g>
<g id="patch_21">
<path d="M 66.672 285.768 L 278.424 285.768" style="fill: none; stroke: #000000; stroke-width: 1.25; stroke-linejoin: miter; stroke-linecap: square"/>
</g>
<g id="legend_1">
<g id="patch_22">
<path d="M 227.124 492.232 L 271.424 492.232 Q 273.424 492.232 273.424 490.232 L 273.424 432.5195 Q 273.424 430.5195 271.424 430.5195 L 227.124 430.5195 Q 225.124 430.5195 225.124 432.5195 L 225.124 490.232 Q 225.124 492.232 227.124 492.232 z" style="fill: #ffffff; opacity: 0.8; stroke: #cccccc; stroke-linejoin: miter"/>
</g>
<g id="line2d_42">
<path d="M 229.124 438.617937 L 239.124 438.617937 L 249.124 438.617937" style="fill: none; stroke-dasharray: 5.484,2.371; stroke-dashoffset: 0; stroke: #000000; stroke-width: 2"/>
</g>
<g id="text_43">
<g transform="translate(257.124 442.117937)">
<text>
<tspan x="0" y="-0.125" style="font-size: 10px; font-family: 'DejaVu Sans'">∞</tspan>
</text>
</g>
</g>
<g id="PathCollection_4">
<path d="M 239.124 456.620552 C 239.773612 456.620552 240.396706 456.362459 240.856051 455.903113 C 241.315396 455.443768 241.57349 454.820675 241.57349 454.171062 C 241.57349 453.52145 241.315396 452.898357 240.856051 452.439012 C 240.396706 451.979666 239.773612 451.721573 239.124 451.721573 C 238.474388 451.721573 237.851294 451.979666 237.391949 452.439012 C 236.932604 452.898357 236.67451 453.52145 236.67451 454.171062 C 236.67451 454.820675 236.932604 455.443768 237.391949 455.903113 C 237.851294 456.362459 238.474388 456.620552 239.124 456.620552 z" style="fill: #1f77b4"/>
</g>
<g id="text_44">
<g transform="translate(257.124 456.796062)">
<text>
<tspan x="0" y="-0.703125" style="font-style: oblique; font-size: 10px; font-family: 'DejaVu Sans'">H</tspan>
<tspan x="7.519531" y="0.9375" style="font-size: 7px; font-family: 'DejaVu Sans'">0</tspan>
</text>
</g>
</g>
<g id="PathCollection_5">
<path d="M 239.124 471.298677 C 239.773612 471.298677 240.396706 471.040584 240.856051 470.581238 C 241.315396 470.121893 241.57349 469.4988 241.57349 468.849187 C 241.57349 468.199575 241.315396 467.576482 240.856051 467.117137 C 240.396706 466.657791 239.773612 466.399698 239.124 466.399698 C 238.474388 466.399698 237.851294 466.657791 237.391949 467.117137 C 236.932604 467.576482 236.67451 468.199575 236.67451 468.849187 C 236.67451 469.4988 236.932604 470.121893 237.391949 470.581238 C 237.851294 471.040584 238.474388 471.298677 239.124 471.298677 z" style="fill: #ff7f0e"/>
</g>
<g id="text_45">
<g transform="translate(257.124 471.474187)">
<text>
<tspan x="0" y="-0.703125" style="font-style: oblique; font-size: 10px; font-family: 'DejaVu Sans'">H</tspan>
<tspan x="7.519531" y="0.9375" style="font-size: 7px; font-family: 'DejaVu Sans'">1</tspan>
</text>
</g>
</g>
<g id="PathCollection_6">
<path d="M 239.124 485.976802 C 239.773612 485.976802 240.396706 485.718709 240.856051 485.259363 C 241.315396 484.800018 241.57349 484.176925 241.57349 483.527312 C 241.57349 482.8777 241.315396 482.254607 240.856051 481.795262 C 240.396706 481.335916 239.773612 481.077823 239.124 481.077823 C 238.474388 481.077823 237.851294 481.335916 237.391949 481.795262 C 236.932604 482.254607 236.67451 482.8777 236.67451 483.527312 C 236.67451 484.176925 236.932604 484.800018 237.391949 485.259363 C 237.851294 485.718709 238.474388 485.976802 239.124 485.976802 z" style="fill: #2ca02c"/>
</g>
<g id="text_46">
<g transform="translate(257.124 486.152312)">
<text>
<tspan x="0" y="-0.703125" style="font-style: oblique; font-size: 10px; font-family: 'DejaVu Sans'">H</tspan>
<tspan x="7.519531" y="0.9375" style="font-size: 7px; font-family: 'DejaVu Sans'">2</tspan>
</text>
</g>
</g>
</g>
</g>
<g id="axes_5">
<g id="patch_23">
<path d="M 320.616 497.232 L 532.224 497.232 L 532.224 285.768 L 320.616 285.768 z" style="fill: #ffffff"/>
</g>
<g id="PathCollection_7">
<g clip-path="url(#p23d2dda8be)">
<path d="M 0 2.44949 C 0.649612 2.44949 1.272706 2.191396 1.732051 1.732051 C 2.191396 1.272706 2.44949 0.649612 2.44949 -0 C 2.44949 -0.649612 2.191396 -1.272706 1.732051 -1.732051 C 1.272706 -2.191396 0.649612 -2.44949 0 -2.44949 C -0.649612 -2.44949 -1.272706 -2.191396 -1.732051 -1.732051 C -2.191396 -1.272706 -2.44949 -0.649612 -2.44949 0 C -2.44949 0.649612 -2.191396 1.272706 -1.732051 1.732051 C -1.272706 2.191396 -0.649612 2.44949 0 2.44949 z" transform="translate(329.555885 476.881263)" style="fill: #1f77b4"/>
</g>
<g clip-path="url(#p23d2dda8be)">
<path d="M 0 2.44949 C 0.649612 2.44949 1.272706 2.191396 1.732051 1.732051 C 2.191396 1.272706 2.44949 0.649612 2.44949 -0 C 2.44949 -0.649612 2.191396 -1.272706 1.732051 -1.732051 C 1.272706 -2.191396 0.649612 -2.44949 0 -2.44949 C -0.649612 -2.44949 -1.272706 -2.191396 -1.732051 -1.732051 C -2.191396 -1.272706 -2.44949 -0.649612 -2.44949 0 C -2.44949 0.649612 -2.191396 1.272706 -1.732051 1.732051 C -1.272706 2.191396 -0.649612 2.44949 0 2.44949 z" transform="translate(329.555885 474.562338)" style="fill: #1f77b4"/>
</g>
<g clip-path="url(#p23d2dda8be)">
<path d="M 0 2.44949 C 0.649612 2.44949 1.272706 2.191396 1.732051 1.732051 C 2.191396 1.272706 2.44949 0.649612 2.44949 -0 C 2.44949 -0.649612 2.191396 -1.272706 1.732051 -1.732051 C 1.272706 -2.191396 0.649612 -2.44949 0 -2.44949 C -0.649612 -2.44949 -1.272706 -2.191396 -1.732051 -1.732051 C -2.191396 -1.272706 -2.44949 -0.649612 -2.44949 0 C -2.44949 0.649612 -2.191396 1.272706 -1.732051 1.732051 C -1.272706 2.191396 -0.649612 2.44949 0 2.44949 z" transform="translate(329.555885 471.401416)" style="fill: #1f77b4"/>
</g>
<g clip-path="url(#p23d2dda8be)">
<path d="M 0 2.44949 C 0.649612 2.44949 1.272706 2.191396 1.732051 1.732051 C 2.191396 1.272706 2.44949 0.649612 2.44949 -0 C 2.44949 -0.649612 2.191396 -1.272706 1.732051 -1.732051 C 1.272706 -2.191396 0.649612 -2.44949 0 -2.44949 C -0.649612 -2.44949 -1.272706 -2.191396 -1.732051 -1.732051 C -2.191396 -1.272706 -2.44949 -0.649612 -2.44949 0 C -2.44949 0.649612 -2.191396 1.272706 -1.732051 1.732051 C -1.272706 2.191396 -0.649612 2.44949 0 2.44949 z" transform="translate(329.555885 469.158989)" style="fill: #1f77b4"/>
</g>
<g clip-path="url(#p23d2dda8be)">
<path d="M 0 2.44949 C 0.649612 2.44949 1.272706 2.191396 1.732051 1.732051 C 2.191396 1.272706 2.44949 0.649612 2.44949 -0 C 2.44949 -0.649612 2.191396 -1.272706 1.732051 -1.732051 C 1.272706 -2.191396 0.649612 -2.44949 0 -2.44949 C -0.649612 -2.44949 -1.272706 -2.191396 -1.732051 -1.732051 C -2.191396 -1.272706 -2.44949 -0.649612 -2.44949 0 C -2.44949 0.649612 -2.191396 1.272706 -1.732051 1.732051 C -1.272706 2.191396 -0.649612 2.44949 0 2.44949 z" transform="translate(329.555885 467.565811)" style="fill: #1f77b4"/>
</g>
<g clip-path="url(#p23d2dda8be)">
<path d="M 0 2.44949 C 0.649612 2.44949 1.272706 2.191396 1.732051 1.732051 C 2.191396 1.272706 2.44949 0.649612 2.44949 -0 C 2.44949 -0.649612 2.191396 -1.272706 1.732051 -1.732051 C 1.272706 -2.191396 0.649612 -2.44949 0 -2.44949 C -0.649612 -2.44949 -1.272706 -2.191396 -1.732051 -1.732051 C -2.191396 -1.272706 -2.44949 -0.649612 -2.44949 0 C -2.44949 0.649612 -2.191396 1.272706 -1.732051 1.732051 C -1.272706 2.191396 -0.649612 2.44949 0 2.44949 z" transform="translate(329.555885 467.425807)" style="fill: #1f77b4"/>
</g>
<g clip-path="url(#p23d2dda8be)">
<path d="M 0 2.44949 C 0.649612 2.44949 1.272706 2.191396 1.732051 1.732051 C 2.191396 1.272706 2.44949 0.649612 2.44949 -0 C 2.44949 -0.649612 2.191396 -1.272706 1.732051 -1.732051 C 1.272706 -2.191396 0.649612 -2.44949 0 -2.44949 C -0.649612 -2.44949 -1.272706 -2.191396 -1.732051 -1.732051 C -2.191396 -1.272706 -2.44949 -0.649612 -2.44949 0 C -2.44949 0.649612 -2.191396 1.272706 -1.732051 1.732051 C -1.272706 2.191396 -0.649612 2.44949 0 2.44949 z" transform="translate(329.555885 464.95515)" style="fill: #1f77b4"/>
</g>
<g clip-path="url(#p23d2dda8be)">
<path d="M 0 2.44949 C 0.649612 2.44949 1.272706 2.191396 1.732051 1.732051 C 2.191396 1.272706 2.44949 0.649612 2.44949 -0 C 2.44949 -0.649612 2.191396 -1.272706 1.732051 -1.732051 C 1.272706 -2.191396 0.649612 -2.44949 0 -2.44949 C -0.649612 -2.44949 -1.272706 -2.191396 -1.732051 -1.732051 C -2.191396 -1.272706 -2.44949 -0.649612 -2.44949 0 C -2.44949 0.649612 -2.191396 1.272706 -1.732051 1.732051 C -1.272706 2.191396 -0.649612 2.44949 0 2.44949 z" transform="translate(329.555885 464.203426)" style="fill: #1f77b4"/>
</g>
<g clip-path="url(#p23d2dda8be)">
<path d="M 0 2.44949 C 0.649612 2.44949 1.272706 2.191396 1.732051 1.732051 C 2.191396 1.272706 2.44949 0.649612 2.44949 -0 C 2.44949 -0.649612 2.191396 -1.272706 1.732051 -1.732051 C 1.272706 -2.191396 0.649612 -2.44949 0 -2.44949 C -0.649612 -2.44949 -1.272706 -2.191396 -1.732051 -1.732051 C -2.191396 -1.272706 -2.44949 -0.649612 -2.44949 0 C -2.44949 0.649612 -2.191396 1.272706 -1.732051 1.732051 C -1.272706 2.191396 -0.649612 2.44949 0 2.44949 z" transform="translate(329.555885 463.319999)" style="fill: #1f77b4"/>
</g>
<g clip-path="url(#p23d2dda8be)">
<path d="M 0 2.44949 C 0.649612 2.44949 1.272706 2.191396 1.732051 1.732051 C 2.191396 1.272706 2.44949 0.649612 2.44949 -0 C 2.44949 -0.649612 2.191396 -1.272706 1.732051 -1.732051 C 1.272706 -2.191396 0.649612 -2.44949 0 -2.44949 C -0.649612 -2.44949 -1.272706 -2.191396 -1.732051 -1.732051 C -2.191396 -1.272706 -2.44949 -0.649612 -2.44949 0 C -2.44949 0.649612 -2.191396 1.272706 -1.732051 1.732051 C -1.272706 2.191396 -0.649612 2.44949 0 2.44949 z" transform="translate(329.555885 459.61849)" style="fill: #1f77b4"/>
</g>
<g clip-path="url(#p23d2dda8be)">
<path d="M 0 2.44949 C 0.649612 2.44949 1.272706 2.191396 1.732051 1.732051 C 2.191396 1.272706 2.44949 0.649612 2.44949 -0 C 2.44949 -0.649612 2.191396 -1.272706 1.732051 -1.732051 C 1.272706 -2.191396 0.649612 -2.44949 0 -2.44949 C -0.649612 -2.44949 -1.272706 -2.191396 -1.732051 -1.732051 C -2.191396 -1.272706 -2.44949 -0.649612 -2.44949 0 C -2.44949 0.649612 -2.191396 1.272706 -1.732051 1.732051 C -1.272706 2.191396 -0.649612 2.44949 0 2.44949 z" transform="translate(329.555885 456.430134)" style="fill: #1f77b4"/>
</g>
<g clip-path="url(#p23d2dda8be)">
<path d="M 0 2.44949 C 0.649612 2.44949 1.272706 2.191396 1.732051 1.732051 C 2.191396 1.272706 2.44949 0.649612 2.44949 -0 C 2.44949 -0.649612 2.191396 -1.272706 1.732051 -1.732051 C 1.272706 -2.191396 0.649612 -2.44949 0 -2.44949 C -0.649612 -2.44949 -1.272706 -2.191396 -1.732051 -1.732051 C -2.191396 -1.272706 -2.44949 -0.649612 -2.44949 0 C -2.44949 0.649612 -2.191396 1.272706 -1.732051 1.732051 C -1.272706 2.191396 -0.649612 2.44949 0 2.44949 z" transform="translate(329.555885 456.160493)" style="fill: #1f77b4"/>
</g>
<g clip-path="url(#p23d2dda8be)">
<path d="M 0 2.44949 C 0.649612 2.44949 1.272706 2.191396 1.732051 1.732051 C 2.191396 1.272706 2.44949 0.649612 2.44949 -0 C 2.44949 -0.649612 2.191396 -1.272706 1.732051 -1.732051 C 1.272706 -2.191396 0.649612 -2.44949 0 -2.44949 C -0.649612 -2.44949 -1.272706 -2.191396 -1.732051 -1.732051 C -2.191396 -1.272706 -2.44949 -0.649612 -2.44949 0 C -2.44949 0.649612 -2.191396 1.272706 -1.732051 1.732051 C -1.272706 2.191396 -0.649612 2.44949 0 2.44949 z" transform="translate(329.555885 455.192016)" style="fill: #1f77b4"/>
</g>
<g clip-path="url(#p23d2dda8be)">
<path d="M 0 2.44949 C 0.649612 2.44949 1.272706 2.191396 1.732051 1.732051 C 2.191396 1.272706 2.44949 0.649612 2.44949 -0 C 2.44949 -0.649612 2.191396 -1.272706 1.732051 -1.732051 C 1.272706 -2.191396 0.649612 -2.44949 0 -2.44949 C -0.649612 -2.44949 -1.272706 -2.191396 -1.732051 -1.732051 C -2.191396 -1.272706 -2.44949 -0.649612 -2.44949 0 C -2.44949 0.649612 -2.191396 1.272706 -1.732051 1.732051 C -1.272706 2.191396 -0.649612 2.44949 0 2.44949 z" transform="translate(329.555885 453.821892)" style="fill: #1f77b4"/>
</g>
<g clip-path="url(#p23d2dda8be)">
<path d="M 0 2.44949 C 0.649612 2.44949 1.272706 2.191396 1.732051 1.732051 C 2.191396 1.272706 2.44949 0.649612 2.44949 -0 C 2.44949 -0.649612 2.191396 -1.272706 1.732051 -1.732051 C 1.272706 -2.191396 0.649612 -2.44949 0 -2.44949 C -0.649612 -2.44949 -1.272706 -2.191396 -1.732051 -1.732051 C -2.191396 -1.272706 -2.44949 -0.649612 -2.44949 0 C -2.44949 0.649612 -2.191396 1.272706 -1.732051 1.732051 C -1.272706 2.191396 -0.649612 2.44949 0 2.44949 z" transform="translate(329.555885 453.354504)" style="fill: #1f77b4"/>
</g>
<g clip-path="url(#p23d2dda8be)">
<path d="M 0 2.44949 C 0.649612 2.44949 1.272706 2.191396 1.732051 1.732051 C 2.191396 1.272706 2.44949 0.649612 2.44949 -0 C 2.44949 -0.649612 2.191396 -1.272706 1.732051 -1.732051 C 1.272706 -2.191396 0.649612 -2.44949 0 -2.44949 C -0.649612 -2.44949 -1.272706 -2.191396 -1.732051 -1.732051 C -2.191396 -1.272706 -2.44949 -0.649612 -2.44949 0 C -2.44949 0.649612 -2.191396 1.272706 -1.732051 1.732051 C -1.272706 2.191396 -0.649612 2.44949 0 2.44949 z" transform="translate(329.555885 451.070618)" style="fill: #1f77b4"/>
</g>
<g clip-path="url(#p23d2dda8be)">
<path d="M 0 2.44949 C 0.649612 2.44949 1.272706 2.191396 1.732051 1.732051 C 2.191396 1.272706 2.44949 0.649612 2.44949 -0 C 2.44949 -0.649612 2.191396 -1.272706 1.732051 -1.732051 C 1.272706 -2.191396 0.649612 -2.44949 0 -2.44949 C -0.649612 -2.44949 -1.272706 -2.191396 -1.732051 -1.732051 C -2.191396 -1.272706 -2.44949 -0.649612 -2.44949 0 C -2.44949 0.649612 -2.191396 1.272706 -1.732051 1.732051 C -1.272706 2.191396 -0.649612 2.44949 0 2.44949 z" transform="translate(329.555885 446.686127)" style="fill: #1f77b4"/>
</g>
<g clip-path="url(#p23d2dda8be)">
<path d="M 0 2.44949 C 0.649612 2.44949 1.272706 2.191396 1.732051 1.732051 C 2.191396 1.272706 2.44949 0.649612 2.44949 -0 C 2.44949 -0.649612 2.191396 -1.272706 1.732051 -1.732051 C 1.272706 -2.191396 0.649612 -2.44949 0 -2.44949 C -0.649612 -2.44949 -1.272706 -2.191396 -1.732051 -1.732051 C -2.191396 -1.272706 -2.44949 -0.649612 -2.44949 0 C -2.44949 0.649612 -2.191396 1.272706 -1.732051 1.732051 C -1.272706 2.191396 -0.649612 2.44949 0 2.44949 z" transform="translate(329.555885 444.818661)" style="fill: #1f77b4"/>
</g>
<g clip-path="url(#p23d2dda8be)">
<path d="M 0 2.44949 C 0.649612 2.44949 1.272706 2.191396 1.732051 1.732051 C 2.191396 1.272706 2.44949 0.649612 2.44949 -0 C 2.44949 -0.649612 2.191396 -1.272706 1.732051 -1.732051 C 1.272706 -2.191396 0.649612 -2.44949 0 -2.44949 C -0.649612 -2.44949 -1.272706 -2.191396 -1.732051 -1.732051 C -2.191396 -1.272706 -2.44949 -0.649612 -2.44949 0 C -2.44949 0.649612 -2.191396 1.272706 -1.732051 1.732051 C -1.272706 2.191396 -0.649612 2.44949 0 2.44949 z" transform="translate(329.555885 442.774599)" style="fill: #1f77b4"/>
</g>
<g clip-path="url(#p23d2dda8be)">
<path d="M 0 2.44949 C 0.649612 2.44949 1.272706 2.191396 1.732051 1.732051 C 2.191396 1.272706 2.44949 0.649612 2.44949 -0 C 2.44949 -0.649612 2.191396 -1.272706 1.732051 -1.732051 C 1.272706 -2.191396 0.649612 -2.44949 0 -2.44949 C -0.649612 -2.44949 -1.272706 -2.191396 -1.732051 -1.732051 C -2.191396 -1.272706 -2.44949 -0.649612 -2.44949 0 C -2.44949 0.649612 -2.191396 1.272706 -1.732051 1.732051 C -1.272706 2.191396 -0.649612 2.44949 0 2.44949 z" transform="translate(329.555885 319.088316)" style="fill: #1f77b4"/>
</g>
</g>
<g id="PathCollection_8">
<path d="M 387.619056 347.438462 C 388.268668 347.438462 388.891761 347.180368 389.351107 346.721023 C 389.810452 346.261678 390.068545 345.638584 390.068545 344.988972 C 390.068545 344.33936 389.810452 343.716267 389.351107 343.256921 C 388.891761 342.797576 388.268668 342.539482 387.619056 342.539482 C 386.969443 342.539482 386.34635 342.797576 385.887005 343.256921 C 385.42766 343.716267 385.169566 344.33936 385.169566 344.988972 C 385.169566 345.638584 385.42766 346.261678 385.887005 346.721023 C 386.34635 347.180368 386.969443 347.438462 387.619056 347.438462 z" clip-path="url(#p23d2dda8be)" style="fill: #ff7f0e"/>
</g>
<g id="PathCollection_9">
<path d="M 477.570889 342.0045 C 478.220501 342.0045 478.843594 341.746407 479.302939 341.287061 C 479.762285 340.827716 480.020378 340.204623 480.020378 339.55501 C 480.020378 338.905398 479.762285 338.282305 479.302939 337.82296 C 478.843594 337.363614 478.220501 337.105521 477.570889 337.105521 C 476.921276 337.105521 476.298183 337.363614 475.838838 337.82296 C 475.379492 338.282305 475.121399 338.905398 475.121399 339.55501 C 475.121399 340.204623 475.379492 340.827716 475.838838 341.287061 C 476.298183 341.746407 476.921276 342.0045 477.570889 342.0045 z" clip-path="url(#p23d2dda8be)" style="fill: #2ca02c"/>
</g>
<g id="matplotlib.axis_9">
<g id="xtick_19">
<g id="line2d_43">
<g>
<path d="M 0 0 L 0 3.5" transform="translate(329.555885 497.232)" style="stroke: #000000; stroke-width: 1.25"/>
</g>
</g>
<g id="text_47">
<text style="font-size: 15px; font-family: 'DejaVu Sans'; text-anchor: middle" x="329.555885" y="515.629656" transform="rotate(-0 329.555885 515.629656)">0</text>
</g>
</g>
<g id="xtick_20">
<g id="line2d_44">
<g>
<path d="M 0 0 L 0 3.5" transform="translate(421.719648 497.232)" style="stroke: #000000; stroke-width: 1.25"/>
</g>
</g>
<g id="text_48">
<text style="font-size: 15px; font-family: 'DejaVu Sans'; text-anchor: middle" x="421.719648" y="515.629656" transform="rotate(-0 421.719648 515.629656)">1</text>
</g>
</g>
<g id="xtick_21">
<g id="line2d_45">
<g>
<path d="M 0 0 L 0 3.5" transform="translate(513.883411 497.232)" style="stroke: #000000; stroke-width: 1.25"/>
</g>
</g>
<g id="text_49">
<text style="font-size: 15px; font-family: 'DejaVu Sans'; text-anchor: middle" x="513.883411" y="515.629656" transform="rotate(-0 513.883411 515.629656)">2</text>
</g>
</g>
<g id="text_50">
<text style="font-size: 16px; font-family: 'DejaVu Sans'; text-anchor: middle" x="426.42" y="534.906687" transform="rotate(-0 426.42 534.906687)">Birth time</text>
</g>
</g>
<g id="matplotlib.axis_10">
<g id="ytick_19">
<g id="line2d_46">
<g>
<path d="M 0 0 L -3.5 0" transform="translate(320.616 488.758704)" style="stroke: #000000; stroke-width: 1.25"/>
</g>
</g>
<g id="text_51">
<text style="font-size: 15px; font-family: 'DejaVu Sans'; text-anchor: end" x="313.616" y="494.457532" transform="rotate(-0 313.616 494.457532)">0</text>
</g>
</g>
<g id="ytick_20">
<g id="line2d_47">
<g>
<path d="M 0 0 L -3.5 0" transform="translate(320.616 396.657659)" style="stroke: #000000; stroke-width: 1.25"/>
</g>
</g>
<g id="text_52">
<text style="font-size: 15px; font-family: 'DejaVu Sans'; text-anchor: end" x="313.616" y="402.356487" transform="rotate(-0 313.616 402.356487)">1</text>
</g>
</g>
<g id="ytick_21">
<g id="line2d_48">
<g>
<path d="M 0 0 L -3.5 0" transform="translate(320.616 304.556613)" style="stroke: #000000; stroke-width: 1.25"/>
</g>
</g>
<g id="text_53">
<text style="font-size: 15px; font-family: 'DejaVu Sans'; text-anchor: end" x="313.616" y="310.255441" transform="rotate(-0 313.616 310.255441)">2</text>
</g>
</g>
</g>
<g id="line2d_49">
<path d="M 321.113684 497.19516 L 508.72224 309.714272" clip-path="url(#p23d2dda8be)" style="fill: none; stroke-dasharray: 5.484,2.371; stroke-dashoffset: 0; stroke: #000000; stroke-width: 2"/>
</g>
<g id="line2d_50">
<path d="M 321.113684 319.088316 L 508.72224 319.088316" clip-path="url(#p23d2dda8be)" style="fill: none; stroke-dasharray: 5.484,2.371; stroke-dashoffset: 0; stroke: #000000; stroke-width: 2"/>
</g>
<g id="patch_24">
<path d="M 320.616 497.232 L 320.616 285.768" style="fill: none; stroke: #000000; stroke-width: 1.25; stroke-linejoin: miter; stroke-linecap: square"/>
</g>
<g id="patch_25">
<path d="M 532.224 497.232 L 532.224 285.768" style="fill: none; stroke: #000000; stroke-width: 1.25; stroke-linejoin: miter; stroke-linecap: square"/>
</g>
<g id="patch_26">
<path d="M 320.616 497.232 L 532.224 497.232" style="fill: none; stroke: #000000; stroke-width: 1.25; stroke-linejoin: miter; stroke-linecap: square"/>
</g>
<g id="patch_27">
<path d="M 320.616 285.768 L 532.224 285.768" style="fill: none; stroke: #000000; stroke-width: 1.25; stroke-linejoin: miter; stroke-linecap: square"/>
</g>
<g id="legend_2">
<g id="patch_28">
<path d="M 480.924 492.232 L 525.224 492.232 Q 527.224 492.232 527.224 490.232 L 527.224 432.5195 Q 527.224 430.5195 525.224 430.5195 L 480.924 430.5195 Q 478.924 430.5195 478.924 432.5195 L 478.924 490.232 Q 478.924 492.232 480.924 492.232 z" style="fill: #ffffff; opacity: 0.8; stroke: #cccccc; stroke-linejoin: miter"/>
</g>
<g id="line2d_51">
<path d="M 482.924 438.617937 L 492.924 438.617937 L 502.924 438.617937" style="fill: none; stroke-dasharray: 5.484,2.371; stroke-dashoffset: 0; stroke: #000000; stroke-width: 2"/>
</g>
<g id="text_54">
<g transform="translate(510.924 442.117937)">
<text>
<tspan x="0" y="-0.125" style="font-size: 10px; font-family: 'DejaVu Sans'">∞</tspan>
</text>
</g>
</g>
<g id="PathCollection_10">
<path d="M 492.924 456.620552 C 493.573612 456.620552 494.196706 456.362459 494.656051 455.903113 C 495.115396 455.443768 495.37349 454.820675 495.37349 454.171062 C 495.37349 453.52145 495.115396 452.898357 494.656051 452.439012 C 494.196706 451.979666 493.573612 451.721573 492.924 451.721573 C 492.274388 451.721573 491.651294 451.979666 491.191949 452.439012 C 490.732604 452.898357 490.47451 453.52145 490.47451 454.171062 C 490.47451 454.820675 490.732604 455.443768 491.191949 455.903113 C 491.651294 456.362459 492.274388 456.620552 492.924 456.620552 z" style="fill: #1f77b4"/>
</g>
<g id="text_55">
<g transform="translate(510.924 456.796062)">
<text>
<tspan x="0" y="-0.703125" style="font-style: oblique; font-size: 10px; font-family: 'DejaVu Sans'">H</tspan>
<tspan x="7.519531" y="0.9375" style="font-size: 7px; font-family: 'DejaVu Sans'">0</tspan>
</text>
</g>
</g>
<g id="PathCollection_11">
<path d="M 492.924 471.298677 C 493.573612 471.298677 494.196706 471.040584 494.656051 470.581238 C 495.115396 470.121893 495.37349 469.4988 495.37349 468.849187 C 495.37349 468.199575 495.115396 467.576482 494.656051 467.117137 C 494.196706 466.657791 493.573612 466.399698 492.924 466.399698 C 492.274388 466.399698 491.651294 466.657791 491.191949 467.117137 C 490.732604 467.576482 490.47451 468.199575 490.47451 468.849187 C 490.47451 469.4988 490.732604 470.121893 491.191949 470.581238 C 491.651294 471.040584 492.274388 471.298677 492.924 471.298677 z" style="fill: #ff7f0e"/>
</g>
<g id="text_56">
<g transform="translate(510.924 471.474187)">
<text>
<tspan x="0" y="-0.703125" style="font-style: oblique; font-size: 10px; font-family: 'DejaVu Sans'">H</tspan>
<tspan x="7.519531" y="0.9375" style="font-size: 7px; font-family: 'DejaVu Sans'">1</tspan>
</text>
</g>
</g>
<g id="PathCollection_12">
<path d="M 492.924 485.976802 C 493.573612 485.976802 494.196706 485.718709 494.656051 485.259363 C 495.115396 484.800018 495.37349 484.176925 495.37349 483.527312 C 495.37349 482.8777 495.115396 482.254607 494.656051 481.795262 C 494.196706 481.335916 493.573612 481.077823 492.924 481.077823 C 492.274388 481.077823 491.651294 481.335916 491.191949 481.795262 C 490.732604 482.254607 490.47451 482.8777 490.47451 483.527312 C 490.47451 484.176925 490.732604 484.800018 491.191949 485.259363 C 491.651294 485.718709 492.274388 485.976802 492.924 485.976802 z" style="fill: #2ca02c"/>
</g>
<g id="text_57">
<g transform="translate(510.924 486.152312)">
<text>
<tspan x="0" y="-0.703125" style="font-style: oblique; font-size: 10px; font-family: 'DejaVu Sans'">H</tspan>
<tspan x="7.519531" y="0.9375" style="font-size: 7px; font-family: 'DejaVu Sans'">2</tspan>
</text>
</g>
</g>
</g>
</g>
<g id="axes_6">
<g id="patch_29">
<path d="M 574.848 497.232 L 786.6 497.232 L 786.6 285.768 L 574.848 285.768 z" style="fill: #ffffff"/>
</g>
<g id="PathCollection_13">
<g clip-path="url(#p379b762742)">
<path d="M 0 2.44949 C 0.649612 2.44949 1.272706 2.191396 1.732051 1.732051 C 2.191396 1.272706 2.44949 0.649612 2.44949 -0 C 2.44949 -0.649612 2.191396 -1.272706 1.732051 -1.732051 C 1.272706 -2.191396 0.649612 -2.44949 0 -2.44949 C -0.649612 -2.44949 -1.272706 -2.191396 -1.732051 -1.732051 C -2.191396 -1.272706 -2.44949 -0.649612 -2.44949 0 C -2.44949 0.649612 -2.191396 1.272706 -1.732051 1.732051 C -1.272706 2.191396 -0.649612 2.44949 0 2.44949 z" transform="translate(583.793969 458.440036)" style="fill: #1f77b4"/>
</g>
<g clip-path="url(#p379b762742)">
<path d="M 0 2.44949 C 0.649612 2.44949 1.272706 2.191396 1.732051 1.732051 C 2.191396 1.272706 2.44949 0.649612 2.44949 -0 C 2.44949 -0.649612 2.191396 -1.272706 1.732051 -1.732051 C 1.272706 -2.191396 0.649612 -2.44949 0 -2.44949 C -0.649612 -2.44949 -1.272706 -2.191396 -1.732051 -1.732051 C -2.191396 -1.272706 -2.44949 -0.649612 -2.44949 0 C -2.44949 0.649612 -2.191396 1.272706 -1.732051 1.732051 C -1.272706 2.191396 -0.649612 2.44949 0 2.44949 z" transform="translate(583.793969 396.657659)" style="fill: #1f77b4"/>
</g>
<g clip-path="url(#p379b762742)">
<path d="M 0 2.44949 C 0.649612 2.44949 1.272706 2.191396 1.732051 1.732051 C 2.191396 1.272706 2.44949 0.649612 2.44949 -0 C 2.44949 -0.649612 2.191396 -1.272706 1.732051 -1.732051 C 1.272706 -2.191396 0.649612 -2.44949 0 -2.44949 C -0.649612 -2.44949 -1.272706 -2.191396 -1.732051 -1.732051 C -2.191396 -1.272706 -2.44949 -0.649612 -2.44949 0 C -2.44949 0.649612 -2.191396 1.272706 -1.732051 1.732051 C -1.272706 2.191396 -0.649612 2.44949 0 2.44949 z" transform="translate(583.793969 384.185335)" style="fill: #1f77b4"/>
</g>
</g>
<g id="PathCollection_14">
<path d="M 614.153928 399.107148 C 614.803541 399.107148 615.426634 398.849055 615.885979 398.389709 C 616.345324 397.930364 616.603418 397.307271 616.603418 396.657659 C 616.603418 396.008046 616.345324 395.384953 615.885979 394.925608 C 615.426634 394.466262 614.803541 394.208169 614.153928 394.208169 C 613.504316 394.208169 612.881223 394.466262 612.421877 394.925608 C 611.962532 395.384953 611.704439 396.008046 611.704439 396.657659 C 611.704439 397.307271 611.962532 397.930364 612.421877 398.389709 C 612.881223 398.849055 613.504316 399.107148 614.153928 399.107148 z" clip-path="url(#p379b762742)" style="fill: #ff7f0e"/>
</g>
<g id="PathCollection_15">
<path d="M 0 546.76949 C 0.649612 546.76949 1.272706 546.511396 1.732051 546.052051 C 2.191396 545.592706 2.44949 544.969612 2.44949 544.32 C 2.44949 543.670388 2.191396 543.047294 1.732051 542.587949 C 1.272706 542.128604 0.649612 541.87051 0 541.87051 C -0.649612 541.87051 -1.272706 542.128604 -1.732051 542.587949 C -2.191396 543.047294 -2.44949 543.670388 -2.44949 544.32 C -2.44949 544.969612 -2.191396 545.592706 -1.732051 546.052051 C -1.272706 546.511396 -0.649612 546.76949 0 546.76949 z" clip-path="url(#p379b762742)" style="fill: #2ca02c"/>
</g>
<g id="matplotlib.axis_11">
<g id="xtick_22">
<g id="line2d_52">
<g>
<path d="M 0 0 L 0 3.5" transform="translate(583.793969 497.232)" style="stroke: #000000; stroke-width: 1.25"/>
</g>
</g>
<g id="text_58">
<text style="font-size: 15px; font-family: 'DejaVu Sans'; text-anchor: middle" x="583.793969" y="515.629656" transform="rotate(-0 583.793969 515.629656)">0</text>
</g>
</g>
<g id="xtick_23">
<g id="line2d_53">
<g>
<path d="M 0 0 L 0 3.5" transform="translate(676.020449 497.232)" style="stroke: #000000; stroke-width: 1.25"/>
</g>
</g>
<g id="text_59">
<text style="font-size: 15px; font-family: 'DejaVu Sans'; text-anchor: middle" x="676.020449" y="515.629656" transform="rotate(-0 676.020449 515.629656)">1</text>
</g>
</g>
<g id="xtick_24">
<g id="line2d_54">
<g>
<path d="M 0 0 L 0 3.5" transform="translate(768.24693 497.232)" style="stroke: #000000; stroke-width: 1.25"/>
</g>
</g>
<g id="text_60">
<text style="font-size: 15px; font-family: 'DejaVu Sans'; text-anchor: middle" x="768.24693" y="515.629656" transform="rotate(-0 768.24693 515.629656)">2</text>
</g>
</g>
<g id="text_61">
<text style="font-size: 16px; font-family: 'DejaVu Sans'; text-anchor: middle" x="680.724" y="534.906687" transform="rotate(-0 680.724 534.906687)">Birth time</text>
</g>
</g>
<g id="matplotlib.axis_12">
<g id="ytick_22">
<g id="line2d_55">
<g>
<path d="M 0 0 L -3.5 0" transform="translate(574.848 488.758704)" style="stroke: #000000; stroke-width: 1.25"/>
</g>
</g>
<g id="text_62">
<text style="font-size: 15px; font-family: 'DejaVu Sans'; text-anchor: end" x="567.848" y="494.457532" transform="rotate(-0 567.848 494.457532)">0</text>
</g>
</g>
<g id="ytick_23">
<g id="line2d_56">
<g>
<path d="M 0 0 L -3.5 0" transform="translate(574.848 396.657659)" style="stroke: #000000; stroke-width: 1.25"/>
</g>
</g>
<g id="text_63">
<text style="font-size: 15px; font-family: 'DejaVu Sans'; text-anchor: end" x="567.848" y="402.356487" transform="rotate(-0 567.848 402.356487)">1</text>
</g>
</g>
<g id="ytick_24">
<g id="line2d_57">
<g>
<path d="M 0 0 L -3.5 0" transform="translate(574.848 304.556613)" style="stroke: #000000; stroke-width: 1.25"/>
</g>
</g>
<g id="text_64">
<text style="font-size: 15px; font-family: 'DejaVu Sans'; text-anchor: end" x="567.848" y="310.255441" transform="rotate(-0 567.848 310.255441)">2</text>
</g>
</g>
</g>
<g id="line2d_58">
<path d="M 575.346023 497.19516 L 694.465746 378.237449" clip-path="url(#p379b762742)" style="fill: none; stroke-dasharray: 5.484,2.371; stroke-dashoffset: 0; stroke: #000000; stroke-width: 2"/>
</g>
<g id="line2d_59">
<path d="M 575.346023 384.185335 L 694.465746 384.185335" clip-path="url(#p379b762742)" style="fill: none; stroke-dasharray: 5.484,2.371; stroke-dashoffset: 0; stroke: #000000; stroke-width: 2"/>
</g>
<g id="patch_30">
<path d="M 574.848 497.232 L 574.848 285.768" style="fill: none; stroke: #000000; stroke-width: 1.25; stroke-linejoin: miter; stroke-linecap: square"/>
</g>
<g id="patch_31">
<path d="M 786.6 497.232 L 786.6 285.768" style="fill: none; stroke: #000000; stroke-width: 1.25; stroke-linejoin: miter; stroke-linecap: square"/>
</g>
<g id="patch_32">
<path d="M 574.848 497.232 L 786.6 497.232" style="fill: none; stroke: #000000; stroke-width: 1.25; stroke-linejoin: miter; stroke-linecap: square"/>
</g>
<g id="patch_33">
<path d="M 574.848 285.768 L 786.6 285.768" style="fill: none; stroke: #000000; stroke-width: 1.25; stroke-linejoin: miter; stroke-linecap: square"/>
</g>
<g id="legend_3">
<g id="patch_34">
<path d="M 735.3 492.232 L 779.6 492.232 Q 781.6 492.232 781.6 490.232 L 781.6 432.5195 Q 781.6 430.5195 779.6 430.5195 L 735.3 430.5195 Q 733.3 430.5195 733.3 432.5195 L 733.3 490.232 Q 733.3 492.232 735.3 492.232 z" style="fill: #ffffff; opacity: 0.8; stroke: #cccccc; stroke-linejoin: miter"/>
</g>
<g id="line2d_60">
<path d="M 737.3 438.617937 L 747.3 438.617937 L 757.3 438.617937" style="fill: none; stroke-dasharray: 5.484,2.371; stroke-dashoffset: 0; stroke: #000000; stroke-width: 2"/>
</g>
<g id="text_65">
<g transform="translate(765.3 442.117937)">
<text>
<tspan x="0" y="-0.125" style="font-size: 10px; font-family: 'DejaVu Sans'">∞</tspan>
</text>
</g>
</g>
<g id="PathCollection_16">
<path d="M 747.3 456.620552 C 747.949612 456.620552 748.572706 456.362459 749.032051 455.903113 C 749.491396 455.443768 749.74949 454.820675 749.74949 454.171062 C 749.74949 453.52145 749.491396 452.898357 749.032051 452.439012 C 748.572706 451.979666 747.949612 451.721573 747.3 451.721573 C 746.650388 451.721573 746.027294 451.979666 745.567949 452.439012 C 745.108604 452.898357 744.85051 453.52145 744.85051 454.171062 C 744.85051 454.820675 745.108604 455.443768 745.567949 455.903113 C 746.027294 456.362459 746.650388 456.620552 747.3 456.620552 z" style="fill: #1f77b4"/>
</g>
<g id="text_66">
<g transform="translate(765.3 456.796062)">
<text>
<tspan x="0" y="-0.703125" style="font-style: oblique; font-size: 10px; font-family: 'DejaVu Sans'">H</tspan>
<tspan x="7.519531" y="0.9375" style="font-size: 7px; font-family: 'DejaVu Sans'">0</tspan>
</text>
</g>
</g>
<g id="PathCollection_17">
<path d="M 747.3 471.298677 C 747.949612 471.298677 748.572706 471.040584 749.032051 470.581238 C 749.491396 470.121893 749.74949 469.4988 749.74949 468.849187 C 749.74949 468.199575 749.491396 467.576482 749.032051 467.117137 C 748.572706 466.657791 747.949612 466.399698 747.3 466.399698 C 746.650388 466.399698 746.027294 466.657791 745.567949 467.117137 C 745.108604 467.576482 744.85051 468.199575 744.85051 468.849187 C 744.85051 469.4988 745.108604 470.121893 745.567949 470.581238 C 746.027294 471.040584 746.650388 471.298677 747.3 471.298677 z" style="fill: #ff7f0e"/>
</g>
<g id="text_67">
<g transform="translate(765.3 471.474187)">
<text>
<tspan x="0" y="-0.703125" style="font-style: oblique; font-size: 10px; font-family: 'DejaVu Sans'">H</tspan>
<tspan x="7.519531" y="0.9375" style="font-size: 7px; font-family: 'DejaVu Sans'">1</tspan>
</text>
</g>
</g>
<g id="PathCollection_18">
<path d="M 747.3 485.976802 C 747.949612 485.976802 748.572706 485.718709 749.032051 485.259363 C 749.491396 484.800018 749.74949 484.176925 749.74949 483.527312 C 749.74949 482.8777 749.491396 482.254607 749.032051 481.795262 C 748.572706 481.335916 747.949612 481.077823 747.3 481.077823 C 746.650388 481.077823 746.027294 481.335916 745.567949 481.795262 C 745.108604 482.254607 744.85051 482.8777 744.85051 483.527312 C 744.85051 484.176925 745.108604 484.800018 745.567949 485.259363 C 746.027294 485.718709 746.650388 485.976802 747.3 485.976802 z" style="fill: #2ca02c"/>
</g>
<g id="text_68">
<g transform="translate(765.3 486.152312)">
<text>
<tspan x="0" y="-0.703125" style="font-style: oblique; font-size: 10px; font-family: 'DejaVu Sans'">H</tspan>
<tspan x="7.519531" y="0.9375" style="font-size: 7px; font-family: 'DejaVu Sans'">2</tspan>
</text>
</g>
</g>
</g>
</g>
</g>
<defs>
<clipPath id="p3191b3735a">
<rect x="66.672" y="8.64" width="211.752" height="225.072"/>
</clipPath>
<clipPath id="pf037a44fa8">
<rect x="320.616" y="8.64" width="211.608" height="225.072"/>
</clipPath>
<clipPath id="p1b75be0a02">
<rect x="574.848" y="8.64" width="211.752" height="225.072"/>
</clipPath>
<clipPath id="p6b034c9dc1">
<rect x="66.672" y="285.768" width="211.752" height="211.464"/>
</clipPath>
<clipPath id="p23d2dda8be">
<rect x="320.616" y="285.768" width="211.608" height="211.464"/>
</clipPath>
<clipPath id="p379b762742">
<rect x="574.848" y="285.768" width="211.752" height="211.464"/>
</clipPath>
</defs>
</svg>

</body></html>
